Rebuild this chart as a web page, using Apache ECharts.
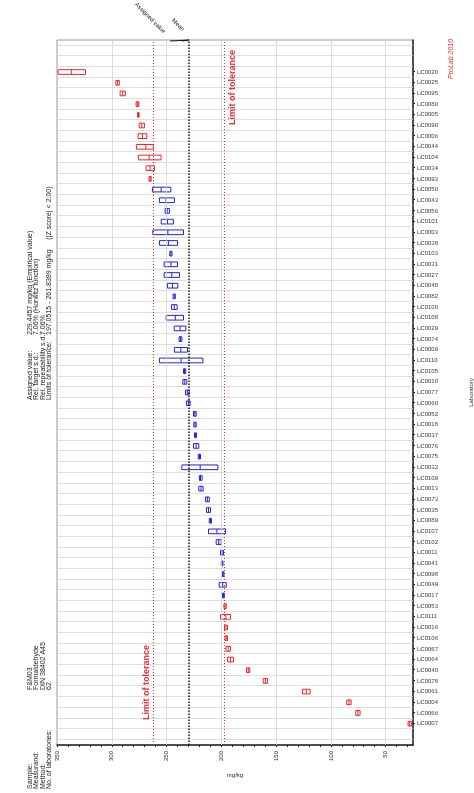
<!DOCTYPE html>
<html><head><meta charset="utf-8">
<script src="https://cdn.jsdelivr.net/npm/echarts@6/dist/echarts.min.js"></script>
<style>html,body{margin:0;padding:0;background:#fff;width:474px;height:793px;overflow:hidden}
#c{position:absolute;left:0;top:0;width:793px;height:474px;transform-origin:0 0;transform:translate(0,793px) rotate(-90deg)}</style>
</head><body><div id="c"></div>
<script>
// Laboratories listed from top of the picture (highest) to bottom
const labs = ["LC0020","LC0025","LC0095","LC0080","LC0005","LC0090","LC0006","LC0044","LC0104","LC0034","LC0093","LC0050","LC0043","LC0056","LC0101","LC0003","LC0038","LC0103","LC0031","LC0027","LC0048","LC0082","LC0100","LC0108","LC0029","LC0074","LC0009","LC0110","LC0105","LC0010","LC0077","LC0060","LC0052","LC0018","LC0037","LC0076","LC0075","LC0032","LC0109","LC0013","LC0073","LC0035","LC0089","LC0107","LC0102","LC0011","LC0041","LC0098","LC0049","LC0017","LC0053","LC0111","LC0016","LC0106","LC0067","LC0064","LC0040","LC0078","LC0061","LC0004","LC0066","LC0007"];
const lows  = [324,293.1,287.6,275.3,275,270.2,268,262,255,261,264,246.1,242.8,247.4,243.7,234.5,240,245,240,238.2,239.7,242,240.3,234.5,232.4,236,230.9,216.8,232.5,231.5,229.4,228.4,222.9,222.9,222.7,220.5,219,203.1,217.5,216.6,211,209.9,209,196.2,200.1,198,198.5,197.5,195.5,197.2,195.5,191.6,194.3,194.3,191.6,188.9,174,157.8,119,81.5,73.3,26.5];
const highs = [349,296.3,292.4,277.8,276.5,275,276,277.5,275.7,268.6,266,262.9,256.5,251.3,254.9,262.5,256.5,247,252.2,252.2,249.2,244,245.5,250.4,243,238.5,242.8,256.5,234.5,235.1,232.7,231.8,225.4,225.1,224.5,225.4,221,236,220,220.5,214.4,213.5,211,211.7,204.7,200.7,200,199,202,198.8,197.6,200.7,197.1,196.7,195.8,194.3,177,161.7,125.8,85.5,77.3,29.5];
const means = [337,294.7,290,276.5,275.7,272.6,272,268.9,265.9,265,265,254.9,250.4,249.4,249.2,248.8,248.3,246,246,245.2,244.6,243,243,242,237.6,237.3,236.9,236.7,233.6,233.3,231,230.1,224.2,224,223.6,223,219.9,219.3,219,218.5,212.7,211.7,209.9,204,202.4,199.4,199.2,198.3,198.7,198,196.5,195.8,195.7,195.5,193.7,191.6,175.4,159.8,122.4,83.4,75.3,28];
const assigned = 229.4457, limLow = 197.0515, limHigh = 261.8399;
const valueTicks = [50,100,150,200,250,300,350];

const n = labs.length;
const names = labs.slice().reverse();
const data = labs.map((l,k)=>[n-1-k, lows[k], highs[k], means[k]]);
const RED='#e8262b', BLUE='#2323d8';
const F='Liberation Sans, Arial, sans-serif';
const minorTicks=[]; for(let v=30; v<=350; v+=10) minorTicks.push(v);
const rowLines=[]; for(let i=-2;i<=63;i++) rowLines.push({xAxis:i+0.5});
const colLines=valueTicks.filter(v=>v<350).map(v=>({yAxis:v}));

const chart = echarts.init(document.getElementById('c'));
chart.setOption({
  animation:false,
  textStyle:{fontFamily:F},
  grid:{left:48,right:40,top:57,bottom:61,outerBoundsMode:'none',containLabel:false,show:true,borderColor:'#999',borderWidth:1},
  xAxis:{type:'value',min:-2,max:64,
    name:'Laboratory',nameLocation:'middle',nameGap:55,nameTextStyle:{fontSize:6,color:'#333',fontFamily:F},
    axisLine:{onZero:false,lineStyle:{color:'#222',width:1.5}},
    axisTick:{customValues:names.map((_,i)=>i),length:2,lineStyle:{color:'#222'}},
    axisLabel:{customValues:names.map((_,i)=>i),rotate:-90,fontSize:6,color:'#333',margin:4,fontFamily:F,
      formatter:v=>names[Math.round(v)]||''},
    splitLine:{show:false}},
  yAxis:{type:'value',min:25,max:350,
    name:'mg/kg',nameLocation:'middle',nameGap:27,nameRotate:-90,nameTextStyle:{fontSize:6,color:'#333',fontFamily:F},
    axisLine:{show:true,onZero:false,lineStyle:{color:'#222',width:1.5}},
    axisTick:{customValues:minorTicks,length:2,lineStyle:{color:'#222'}},
    axisLabel:{customValues:valueTicks,fontSize:6,color:'#333',margin:6,fontFamily:F},
    splitLine:{show:false}},
  series:[
    {type:'custom',silent:true,data:[[0]],renderItem:()=>({type:'group',children:[]}),
      markLine:{symbol:'none',silent:true,label:{show:false},lineStyle:{color:'#d4d4d4',width:0.8,type:'solid'},data:rowLines.concat(colLines)}},
    {type:'custom',silent:true,data:[[0]],renderItem:()=>({type:'group',children:[]}),
      markLine:{symbol:'none',silent:true,data:[
        {yAxis:limHigh,lineStyle:{color:RED,type:[1,2],width:1},label:{show:true,formatter:'Limit of tolerance',position:'insideStartTop',color:RED,fontWeight:'bold',fontSize:9,fontFamily:F,distance:[25,3]}},
        {yAxis:limLow,lineStyle:{color:RED,type:[1,2],width:1},label:{show:true,formatter:'Limit of tolerance',position:'insideEndBottom',color:RED,fontWeight:'bold',fontSize:9,fontFamily:F,distance:[10,3]}},
        {yAxis:assigned,lineStyle:{color:'#111',type:[1.5,1.5],width:1.5},label:{show:false}}
      ]}},
    {type:'custom',data:data,encode:{x:0,y:[1,2,3]},clip:false,
      renderItem:function(params,api){
        const i=api.value(0), lo=api.value(1), hi=api.value(2), m=api.value(3);
        const col=(m<limLow||m>limHigh)?RED:BLUE;
        const w=api.size([1,0])[0]*0.44;
        const p1=api.coord([i,hi]), p2=api.coord([i,lo]), pm=api.coord([i,m]);
        const x=p1[0]-w/2, y=p1[1], h=Math.max(p2[1]-p1[1],1);
        return {type:'group',children:[
          {type:'rect',shape:{x:x,y:y,width:w,height:h},style:{fill:null,stroke:col,lineWidth:1}},
          {type:'line',shape:{x1:x,y1:pm[1],x2:x+w,y2:pm[1]},style:{stroke:col,lineWidth:1}}
        ]};
      }}
  ]
});
const pa = chart.convertToPixel({gridIndex:0},[64,assigned]);
chart.setOption({graphic:[
  {id:'t1',type:'text',x:4,y:27,style:{text:'Sample:\nMeasurand:\nMethod:\nNo. of laboratories:',fontSize:7,lineHeight:6.3,fill:'#222',fontFamily:F}},
  {id:'t2',type:'text',x:103,y:27,style:{text:'F&M03\nFormaldehyde\nDIN 38402 A45\n62',fontSize:7,lineHeight:6.3,fill:'#222',fontFamily:F}},
  {id:'t3',type:'text',x:393,y:27,style:{text:'Assigned value:\nRel. target s.d.:\nRel. repeatability s.d.:\nLimits of tolerance:',fontSize:7,lineHeight:6.3,fill:'#222',fontFamily:F}},
  {id:'t4',type:'text',x:458,y:27,style:{text:'229.4457 mg/kg (Empirical value)\n7.06% (Horwitz function)\n7.06%\n197.0515 - 261.8399 mg/kg     (|Z score| < 2.00)',fontSize:7,lineHeight:6.3,fill:'#222',fontFamily:F}},
  {id:'t5',type:'text',x:714,y:448,style:{text:'ProLab 2010',fontSize:7,fontStyle:'italic',fill:RED,fontFamily:F}},
  {id:'t6',type:'text',x:775,y:150,rotation:-Math.PI*0.75,style:{text:'Assigned value',fontSize:6,fill:'#222',fontFamily:F,align:'center',verticalAlign:'middle'}},
  {id:'t7',type:'text',x:768,y:178,rotation:-Math.PI*0.75,style:{text:'Mean',fontSize:6,fill:'#222',fontFamily:F,align:'center',verticalAlign:'middle'}},
  {id:'p1',type:'polyline',shape:{points:[[752,170],[pa[0],pa[1]],[752,182]]},style:{stroke:'#111',lineWidth:1,fill:null}}
]});
</script></body></html>
